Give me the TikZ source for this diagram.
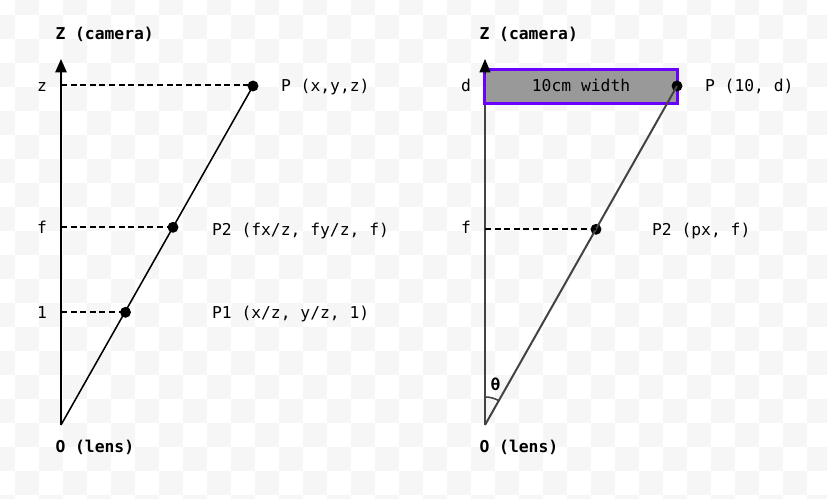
\documentclass[tikz,border=0pt]{standalone}
\usepackage{fontspec}
\setmonofont{DejaVu Sans Mono}
\usetikzlibrary{arrows.meta}
\definecolor{chk}{HTML}{F6F6F6}
\definecolor{darkln}{HTML}{434343}
\definecolor{purp}{HTML}{6A00FF}
\definecolor{boxg}{HTML}{999999}
\tikzset{
  x=0.75pt,y=-0.75pt,
  lbl/.style={anchor=base west,inner sep=0pt,outer sep=0pt,font=\ttfamily\fontsize{12.25pt}{14pt}\selectfont,text=black},
  blbl/.style={lbl,font=\ttfamily\bfseries\fontsize{12.25pt}{14pt}\selectfont,text=black},
  clbl/.style={lbl,anchor=base},
  dot/.style={circle,fill=black,inner sep=0pt,outer sep=0pt,minimum size=8.2pt,draw=none},
  axisln/.style={line width=1.15pt,-{Triangle[length=10pt,width=8.5pt]}},
  rayln/.style={line width=1.15pt},
  rayd/.style={line width=1.5pt,darkln},
  dashln/.style={line width=1.2pt,dash pattern=on 4.5pt off 2.7pt},
}
\begin{document}
\begin{tikzpicture}
\useasboundingbox (0,0) rectangle (827,499);
\fill[white] (0,0) rectangle (827,499);
\begin{scope}
\clip (0,0) rectangle (827,499);
\foreach \i in {0,...,34}{\foreach \j in {0,...,21}{
  \pgfmathtruncatemacro{\odd}{mod(\i+\j,2)}
  \ifnum\odd=1
    \fill[chk] ({\i*24-9},{\j*24-9}) rectangle ({\i*24+15},{\j*24+15});
  \fi
}}
\end{scope}
% left
\coordinate (Oa) at (61,425);
\coordinate (Ta) at (61,59);
\coordinate (za) at (61,85);
\coordinate (fa) at (61,227);
\coordinate (oa) at (61,312);
\node[dot] (Pa) at (253,86) {};
\node[dot] (Pb) at (173,227.3) {};
\node[dot] (Pc) at (125.5,312.3) {};
\coordinate (Pae) at (253,85);
\coordinate (Pbe) at (173,227);
\coordinate (Pce) at (125.5,312);
\draw[axisln,black] (Oa) -- (Ta);
\draw[rayln,black] (Oa) -- (Pa.center);
\draw[dashln,black] (za) -- (Pae);
\draw[dashln,black] (fa) -- (Pbe);
\draw[dashln,black] (oa) -- (Pce);
\node[blbl] (zcam) at (55.5,39.3) {Z (camera)};
\node[blbl] (olens) at (55.5,452.5) {O (lens)};
\node[lbl] (lz) at (37,91.5) {z};
\node[lbl] (lf) at (37,233) {f};
\node[lbl] (lo) at (37,318) {1};
\node[lbl] (lP) at (281,91.5) {P (x,y,z)};
\node[lbl] (lPb) at (212,235.5) {P2 (fx/z, fy/z, f)};
\node[lbl] (lPc) at (212,318.5) {P1 (x/z, y/z, 1)};
% right
\coordinate (Ob) at (485,425);
\coordinate (Tb) at (485,59);
\coordinate (Sb) at (485,74);
\coordinate (fb) at (485,229);
\coordinate (Qbe) at (596,229);
\coordinate (arcs) at (485,397);
\draw[rayd] (Ob) -- (Sb);
\node[draw=purp,fill=boxg,line width=2.25pt,minimum width=144.4pt,minimum height=25.5pt,inner sep=0pt,outer sep=0pt,anchor=north west] (box) at (484.5,69.5) {};
\draw[axisln,black,line width=0pt] (Sb) -- (Tb);
\node[clbl] (boxt) at (581,91.5) {10cm width};
\node[dot] (Qa) at (677,86) {};
\node[dot] (Qb) at (596,229.3) {};
\draw[rayd] (Ob) -- (Qa.center);
\draw[dashln,black] (fb) -- (Qbe);
\draw[line width=1.2pt,darkln] (arcs) arc[start angle=90,end angle=60.5,radius=21pt];
\node[blbl] (zcamb) at (479.5,39.3) {Z (camera)};
\node[blbl] (olensb) at (479.5,452.5) {O (lens)};
\node[lbl] (ld) at (461,91.5) {d};
\node[lbl] (lfb) at (461,233) {f};
\node[lbl] (lQa) at (705,91.5) {P (10, d)};
\node[lbl] (lQb) at (652,235.5) {P2 (px, f)};
\node[blbl] (ltheta) at (490.5,390) {θ};
\end{tikzpicture}
\end{document}
